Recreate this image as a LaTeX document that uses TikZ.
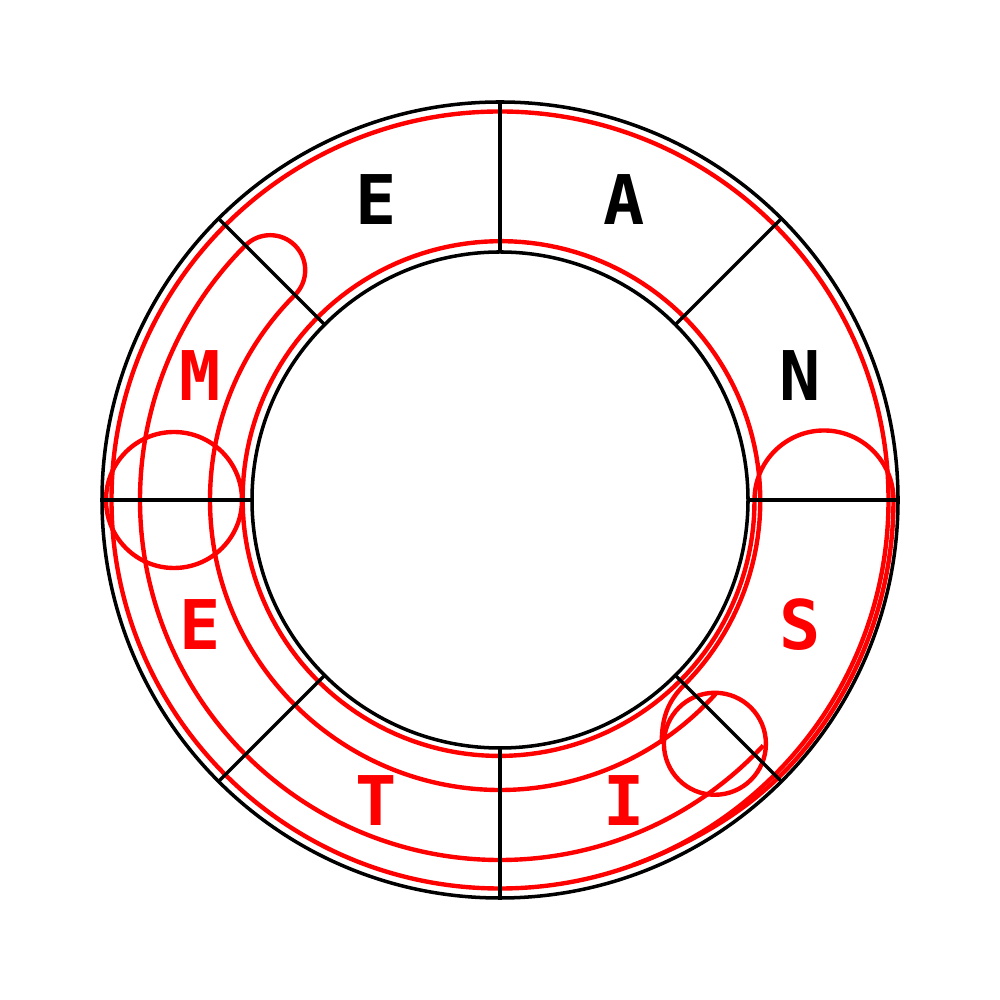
\documentclass[tikz,border=0pt]{standalone}
\usepackage{fontspec}
\newfontfamily\ringfont{DejaVu Sans Mono}
\usetikzlibrary{calc}
\tikzset{
	rim/.style={black, line width=1pt},
	trail/.style={red, line width=1.25pt},
	letter/.style={font=\ringfont\bfseries\fontsize{19.5}{20}\selectfont, inner sep=0pt},
}
\begin{document}
\begin{tikzpicture} %
		\useasboundingbox (-5,-5) rectangle (5,5);
		% Ring
		\draw[rim] (0,0) circle[radius=3.98];
		\draw[rim] (0,0) circle[radius=2.48];
		% Red trail
		\draw[trail] (0,0) circle[radius=3.885];
		\node[trail, draw, circle, minimum size=1.36cm, inner sep=0pt] (wheel) at (180:3.26) {};
		\node[trail, draw, circle, minimum size=1.02cm, inner sep=0pt] (loop) at (-48.6:3.25) {};
		\draw[trail] (317:3.6) arc[start angle=317, end angle=135, radius=3.6]
			arc[start angle=135, end angle=-45, radius=0.35]
			arc[start angle=135, end angle=318, radius=2.9];
		% right cap, outer leg and inner spiral
		\draw[trail] plot[domain=-70:-40, samples=30] (\x:{3.885+0.05*(sin(3*(\x+70)))^2})
			arc[start angle=-40, end angle=0, radius=3.935]
			arc[start angle=0, end angle=180, radius=0.695]
			-- plot[domain=0:-405, samples=200] (\x:{2.545+0.065*(-\x)/405})
			to[out=-135, in=90] (loop.west);
		% Spokes
		\foreach \a in {0,45,...,315}
			\draw[rim] (\a:2.48) -- (\a:3.98);
		% Letters
		\node[letter] (Ea) at (112.5:3.25) {E};
		\node[letter] (A) at (67.5:3.25) {A};
		\node[letter] (N) at (22.5:3.25) {N};
		\node[letter, red] (S) at (-22.5:3.25) {S};
		\node[letter, red] (I) at (-67.5:3.25) {I};
		\node[letter, red] (T) at (-112.5:3.25) {T};
		\node[letter, red] (Eb) at (-157.5:3.25) {E};
		\node[letter, red] (M) at (157.5:3.25) {M};
	\end{tikzpicture}
\end{document}
